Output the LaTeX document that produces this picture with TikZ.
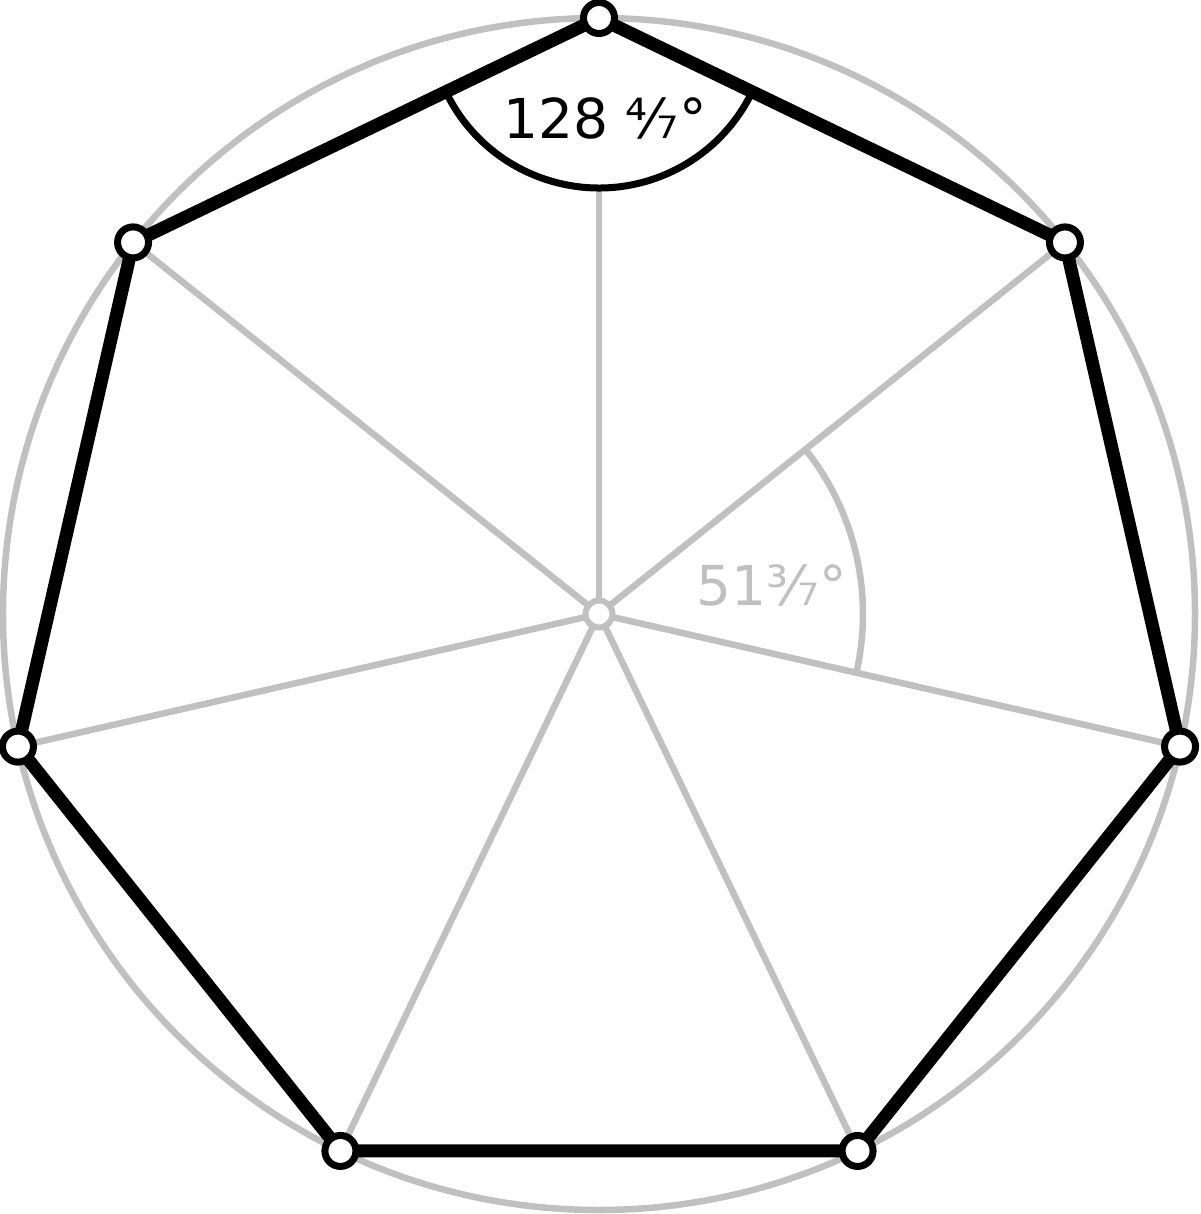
\documentclass[tikz,border=0pt]{standalone}
\usepackage{fontspec}
\setmainfont{DejaVu Sans}
\usetikzlibrary{calc}
\definecolor{lightgrey}{RGB}{192,192,192}
\tikzset{
    spoke/.style={draw=lightgrey,line width=6.5pt},
    side/.style={draw=black,line width=13pt,line join=round},
    corner/.style={circle,draw=black,fill=white,line width=7pt,inner sep=0pt,minimum size=31pt},
    hub/.style={circle,draw=lightgrey,fill=white,line width=6pt,inner sep=0pt,minimum size=27pt},
    anglelabel/.style={font=\fontsize{55}{60}\selectfont,inner sep=0pt},
}

\begin{document}
\begin{tikzpicture}[x=1pt,y=1pt]
	\useasboundingbox (-599,-600) rectangle (601,614);
	\coordinate (O) at (0,0);
	\foreach \k in {0,...,6}
		\coordinate (v\k) at (90-\k*360/7:596);
	\draw[spoke] (O) circle (596);
	\coordinate (arcfoot) at (0,426);
	\draw[spoke] (O) -- (arcfoot);
	\foreach \k in {1,...,6}
		\draw[spoke] (O) -- (v\k);
	% central angle
	\draw[spoke] (-12.857:264) arc (-12.857:38.571:264);
	\node[anglelabel,text=lightgrey] (central) at (173,29) {51³⁄₇°};
	% interior angle
	\draw[line width=7pt] ($(v0)+(-154.286:170)$) arc (-154.286:-25.714:170);
	\node[anglelabel] (interior) at (6,496) {128 ⁴⁄₇°};
	\draw[side] (v0) -- (v1) -- (v2) -- (v3) -- (v4) -- (v5) -- (v6) -- cycle;
	\node[hub] (centre) at (O) {};
	\foreach \k in {0,...,6}
		\node[corner] (c\k) at (v\k) {};
\end{tikzpicture}
\end{document}
